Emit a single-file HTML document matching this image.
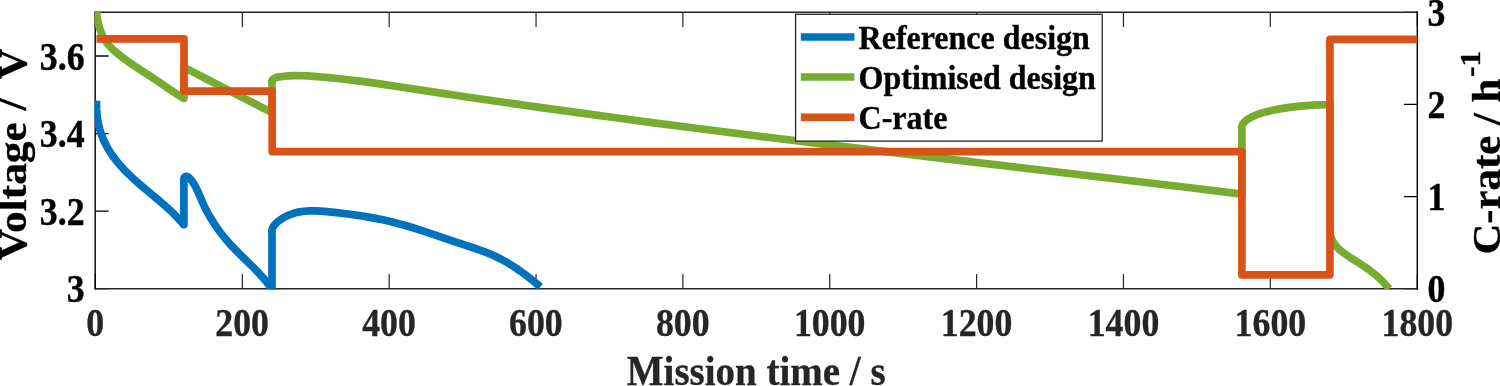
<!DOCTYPE html>
<html lang="en"><head><meta charset="utf-8"><title>Voltage and C-rate over mission time</title>
<style>html,body{margin:0;padding:0;background:#fff;overflow:hidden}svg{display:block}text{font-family:"Liberation Serif","Times New Roman",Times,serif;font-weight:bold;stroke-linejoin:round}</style></head><body>
<svg width="1500" height="386" viewBox="0 0 1500 386">
<rect width="1500" height="386" fill="#fff"/>
<defs><clipPath id="ax"><rect x="94.50" y="11.50" width="1323.50" height="277.90"/></clipPath></defs>
<path d="M95.20 288.70 V274.10 M95.20 12.30 V26.90 M242.35 288.70 V274.10 M242.35 12.30 V26.90 M389.20 288.70 V274.10 M389.20 12.30 V26.90 M536.05 288.70 V274.10 M536.05 12.30 V26.90 M682.90 288.70 V274.10 M682.90 12.30 V26.90 M829.75 288.70 V274.10 M829.75 12.30 V26.90 M976.60 288.70 V274.10 M976.60 12.30 V26.90 M1123.45 288.70 V274.10 M1123.45 12.30 V26.90 M1270.30 288.70 V274.10 M1270.30 12.30 V26.90 M1417.30 288.70 V274.10 M1417.30 12.30 V26.90" fill="none" stroke="#262626" stroke-width="1.2"/>
<path d="M95.20 288.70 H108.60 M95.20 211.14 H108.60 M95.20 133.58 H108.60 M95.20 56.02 H108.60 M1417.30 288.70 H1403.90 M1417.30 196.57 H1403.90 M1417.30 104.43 H1403.90 M1417.30 12.30 H1403.90" fill="none" stroke="#000" stroke-width="1.3"/>
<path d="M95.20 288.70 H1417.30 M95.20 12.30 H1417.30" fill="none" stroke="#262626" stroke-width="1.40" stroke-linecap="square"/>
<path d="M95.20 12.30 V288.70 M1417.30 12.30 V288.70" fill="none" stroke="#000" stroke-width="1.40" stroke-linecap="square"/>
<g clip-path="url(#ax)" fill="none" stroke-width="7.70" stroke-linejoin="round">
<path stroke="#0072BD" d="M96.54 100.63 L96.46 104.40 L96.52 108.14 L96.73 111.85 L97.08 115.53 L97.58 119.17 L98.22 122.76 L99.00 126.31 L99.93 129.81 L100.99 133.19 L102.18 136.53 L103.51 139.79 L104.97 142.99 L106.57 146.12 L108.33 149.23 L110.24 152.31 L112.33 155.40 L115.85 160.12 L119.79 164.88 L124.15 169.67 L128.98 174.54 L133.76 179.04 L139.19 183.86 L144.78 188.62 L159.85 201.20 L164.35 205.09 L168.29 208.63 L172.71 212.80 L176.73 216.85 L180.38 220.81 L183.71 224.73 L183.90 224.70 L183.90 179.50 L183.66 179.42 L184.00 178.13 L184.25 177.62 L184.58 177.17 L184.98 176.81 L185.42 176.57 L185.91 176.43 L186.41 176.40 L186.91 176.47 L187.46 176.64 L188.55 177.27 L189.73 178.30 L191.01 179.75 L192.38 181.58 L193.76 183.67 L195.03 185.81 L196.27 188.14 L198.19 192.23 L201.61 200.34 L203.34 204.21 L205.62 208.89 L208.09 213.55 L210.71 218.10 L213.48 222.57 L216.41 226.97 L219.48 231.27 L222.44 235.15 L225.51 238.94 L228.66 242.58 L232.06 246.31 L238.57 252.99 L253.96 268.11 L257.74 271.99 L261.06 275.56 L264.19 279.12 L267.02 282.56 L269.66 286.00 L272.06 289.39 L272.00 289.40 L272.00 231.00 L271.77 230.84 L272.19 229.13 L272.87 227.48 L273.75 225.97 L274.94 224.43 L276.44 222.89 L278.26 221.34 L280.44 219.72 L282.75 218.22 L285.17 216.86 L287.68 215.62 L290.25 214.53 L292.96 213.55 L295.61 212.76 L298.36 212.11 L301.13 211.61 L304.10 211.22 L306.98 210.98 L310.06 210.85 L313.25 210.84 L316.74 210.94 L320.33 211.14 L324.51 211.46 L336.57 212.62 L348.23 213.99 L359.38 215.57 L370.09 217.35 L380.46 219.36 L389.32 221.32 L397.83 223.43 L406.28 225.77 L415.40 228.54 L427.98 232.65 L456.71 242.44 L477.75 249.28 L484.18 251.57 L489.80 253.80 L495.73 256.47 L501.71 259.51 L507.80 262.97 L513.92 266.78 L520.14 270.99 L526.61 275.71 L533.32 280.91 L540.47 286.76"/>
<path stroke="#77AC30" d="M95.96 5.03 L96.19 8.70 L96.50 12.19 L96.89 15.48 L97.37 18.65 L97.94 21.68 L98.60 24.54 L99.35 27.28 L100.19 29.89 L101.11 32.35 L102.12 34.66 L103.24 36.91 L104.48 39.08 L105.85 41.22 L107.35 43.31 L108.94 45.28 L110.66 47.20 L112.25 48.82 L114.00 50.48 L118.20 54.11 L122.97 57.86 L128.34 61.75 L135.32 66.48 L152.28 77.51 L172.91 91.52 L178.59 95.19 L183.82 98.38 L183.90 98.40 L183.90 67.20 L183.90 67.20 L188.40 69.60 L206.60 79.00 L232.50 92.30 L272.00 112.60 L272.00 112.60 L272.00 81.50 L271.73 81.25 L272.02 80.64 L272.54 79.83 L272.94 79.37 L273.62 78.77 L274.91 78.01 L276.67 77.39 L279.54 76.82 L284.09 76.22 L288.65 75.84 L293.22 75.65 L297.79 75.62 L302.36 75.73 L307.59 75.97 L313.47 76.35 L321.30 76.97 L329.12 77.67 L337.57 78.52 L346.01 79.47 L361.90 81.44 L379.69 83.91 L395.53 86.25 L439.46 92.90 L468.54 97.21 L505.39 102.55 L543.24 107.89 L579.80 112.93 L617.35 117.99 L655.89 123.07 L696.06 128.26 L771.90 137.80 L856.53 148.13 L937.94 157.86 L1137.45 181.47 L1192.25 188.05 L1241.86 194.07 L1241.90 194.60 L1241.90 127.50 L1241.68 127.40 L1241.88 126.23 L1242.25 125.10 L1242.79 124.03 L1243.50 123.01 L1244.37 122.04 L1245.48 121.03 L1246.94 119.90 L1248.55 118.80 L1250.24 117.77 L1252.05 116.79 L1253.98 115.87 L1256.02 115.00 L1258.19 114.18 L1260.50 113.39 L1265.67 111.92 L1272.57 110.30 L1279.98 108.85 L1287.48 107.63 L1295.20 106.63 L1303.19 105.83 L1311.55 105.22 L1320.49 104.79 L1330.24 104.52 L1330.30 104.50 L1330.30 232.00 L1329.91 232.08 L1330.30 234.43 L1330.88 236.68 L1331.66 238.85 L1332.65 240.95 L1333.84 242.99 L1335.23 244.96 L1336.85 246.90 L1338.70 248.81 L1340.20 250.18 L1341.85 251.56 L1343.65 252.97 L1345.64 254.41 L1349.35 256.90 L1358.67 262.78 L1363.88 266.20 L1368.98 269.77 L1373.48 273.20 L1375.81 275.10 L1378.01 277.02 L1380.10 278.94 L1382.07 280.87 L1383.94 282.84 L1385.74 284.86 L1387.43 286.88 L1389.04 288.96"/>
<path stroke="#D95319" d="M96.50 38.95 L184.00 38.95 L184.00 91.10 L272.20 91.10 L272.20 151.70 L1241.90 151.70 L1241.90 274.90 L1329.90 274.90 L1329.90 39.30 L1417.30 39.30"/>
</g>
<rect x="795.60" y="14.30" width="306.60" height="126.80" fill="#fff" stroke="#262626" stroke-width="1.3"/>
<path d="M800.8 37.00 H854.4" stroke="#0072BD" stroke-width="7.6" fill="none"/>
<text transform="translate(858.6 48.60) scale(1 1.050)" font-size="32.00" fill="#000" stroke="#000" stroke-width="0.35">Reference design</text>
<path d="M800.8 77.00 H854.4" stroke="#77AC30" stroke-width="7.6" fill="none"/>
<text transform="translate(858.6 88.80) scale(1 1.050)" font-size="32.00" fill="#000" stroke="#000" stroke-width="0.35">Optimised design</text>
<path d="M800.8 117.30 H854.4" stroke="#D95319" stroke-width="7.6" fill="none"/>
<text transform="translate(858.6 129.10) scale(1 1.050)" font-size="32.00" fill="#000" stroke="#000" stroke-width="0.35">C-rate</text>
<text transform="translate(95.20 336.3) scale(1 1.095)" font-size="35.80" fill="#262626" stroke="#262626" stroke-width="0.3" text-anchor="middle">0</text>
<text transform="translate(242.10 336.3) scale(1 1.095)" font-size="35.80" fill="#262626" stroke="#262626" stroke-width="0.3" text-anchor="middle">200</text>
<text transform="translate(389.00 336.3) scale(1 1.095)" font-size="35.80" fill="#262626" stroke="#262626" stroke-width="0.3" text-anchor="middle">400</text>
<text transform="translate(535.90 336.3) scale(1 1.095)" font-size="35.80" fill="#262626" stroke="#262626" stroke-width="0.3" text-anchor="middle">600</text>
<text transform="translate(682.80 336.3) scale(1 1.095)" font-size="35.80" fill="#262626" stroke="#262626" stroke-width="0.3" text-anchor="middle">800</text>
<text transform="translate(829.70 336.3) scale(1 1.095)" font-size="35.80" fill="#262626" stroke="#262626" stroke-width="0.3" text-anchor="middle">1000</text>
<text transform="translate(976.60 336.3) scale(1 1.095)" font-size="35.80" fill="#262626" stroke="#262626" stroke-width="0.3" text-anchor="middle">1200</text>
<text transform="translate(1123.50 336.3) scale(1 1.095)" font-size="35.80" fill="#262626" stroke="#262626" stroke-width="0.3" text-anchor="middle">1400</text>
<text transform="translate(1270.40 336.3) scale(1 1.095)" font-size="35.80" fill="#262626" stroke="#262626" stroke-width="0.3" text-anchor="middle">1600</text>
<text transform="translate(1417.30 336.3) scale(1 1.095)" font-size="35.80" fill="#262626" stroke="#262626" stroke-width="0.3" text-anchor="middle">1800</text>
<text transform="translate(84.6 302.20) scale(1 1.095)" font-size="35.80" fill="#000" stroke="#000" stroke-width="0.35" text-anchor="end">3</text>
<text transform="translate(84.6 224.64) scale(1 1.095)" font-size="35.80" fill="#000" stroke="#000" stroke-width="0.35" text-anchor="end">3.2</text>
<text transform="translate(84.6 147.08) scale(1 1.095)" font-size="35.80" fill="#000" stroke="#000" stroke-width="0.35" text-anchor="end">3.4</text>
<text transform="translate(84.6 69.52) scale(1 1.095)" font-size="35.80" fill="#000" stroke="#000" stroke-width="0.35" text-anchor="end">3.6</text>
<text transform="translate(1427.6 302.20) scale(1 1.095)" font-size="35.80" fill="#000" stroke="#000" stroke-width="0.35">0</text>
<text transform="translate(1427.6 210.07) scale(1 1.095)" font-size="35.80" fill="#000" stroke="#000" stroke-width="0.35">1</text>
<text transform="translate(1427.6 117.93) scale(1 1.095)" font-size="35.80" fill="#000" stroke="#000" stroke-width="0.35">2</text>
<text transform="translate(1427.6 25.80) scale(1 1.095)" font-size="35.80" fill="#000" stroke="#000" stroke-width="0.35">3</text>
<text transform="translate(756.2 385.3) scale(1 1.075)" font-size="39.00" fill="#262626" stroke="#262626" stroke-width="0.3" text-anchor="middle">Mission time / s</text>
<text transform="translate(26.30 260.3) rotate(-90) scale(1.097 1)" font-size="39.50" fill="#000" stroke="#000" stroke-width="0.35">Voltage</text>
<text transform="translate(26.30 110.6) rotate(-90) scale(1.075 1)" font-size="39.50" fill="#000" stroke="#000" stroke-width="0.35">/</text>
<text transform="translate(26.30 78.9) rotate(-90) scale(1.060 1)" font-size="39.50" fill="#000" stroke="#000" stroke-width="0.35">V</text>
<text transform="translate(1499.90 254.6) rotate(-90) scale(1.084 1)" font-size="39.50" fill="#000" stroke="#000" stroke-width="0.35">C-rate / h<tspan font-size="28.84" dy="-19.7" dx="1.6">-1</tspan></text>
</svg></body></html>
